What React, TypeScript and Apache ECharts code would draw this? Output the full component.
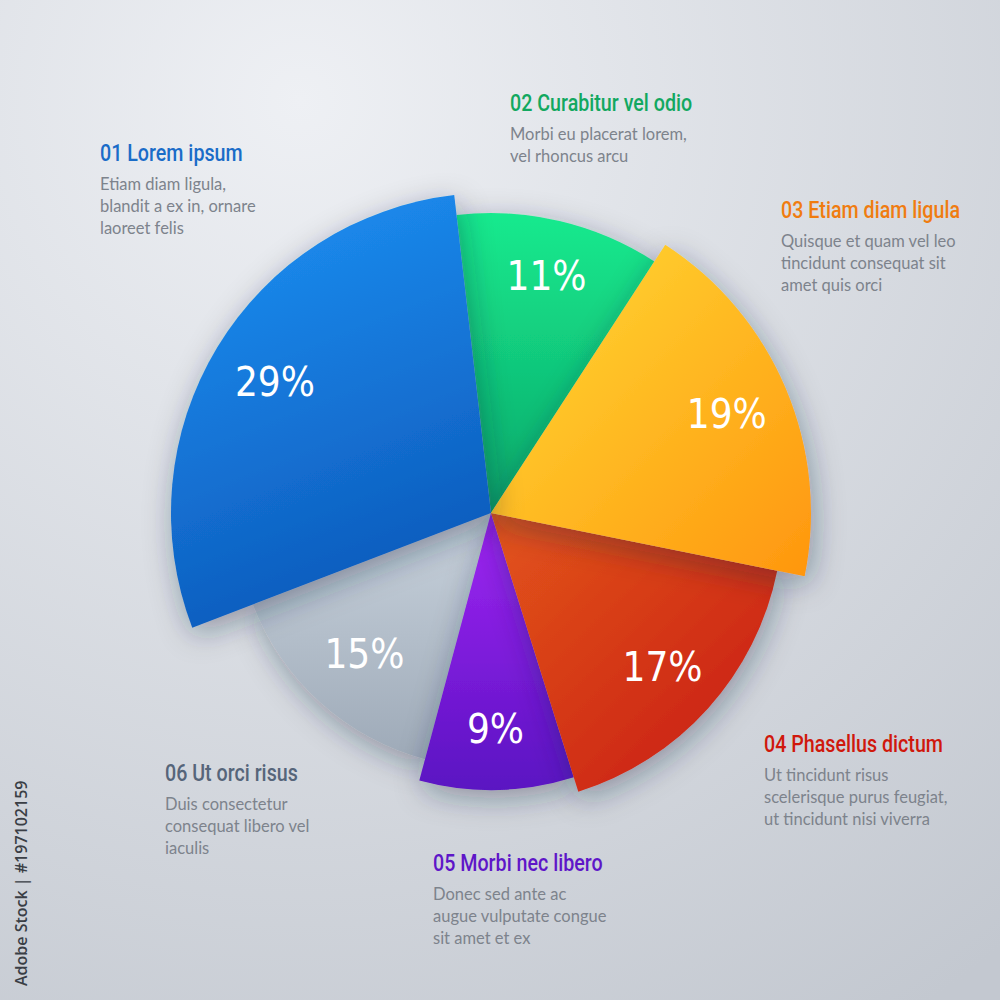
import React, { useEffect, useRef } from 'react';
import * as echarts from 'echarts';

// ---------- data ----------
const categories = [
  '01 Lorem ipsum',
  '02 Curabitur vel odio',
  '03 Etiam diam ligula',
  '04 Phasellus dictum',
  '05 Morbi nec libero',
  '06 Ut orci risus',
];
const percentValues = [29, 11, 19, 17, 9, 15];
const descriptions = [
  ['Etiam diam ligula,', 'blandit a ex in, ornare', 'laoreet felis'],
  ['Morbi eu placerat lorem,', 'vel rhoncus arcu'],
  ['Quisque et quam vel leo', 'tincidunt consequat sit', 'amet quis orci'],
  ['Ut tincidunt risus', 'scelerisque purus feugiat,', 'ut tincidunt nisi viverra'],
  ['Donec sed ante ac', 'augue vulputate congue', 'sit amet et ex'],
  ['Duis consectetur', 'consequat libero vel', 'iaculis'],
];
const creditText = 'Adobe Stock | #197102159';

// ---------- layout & style ----------
const CENTER = [491, 513];
const START_ANGLE = 201;
const sliceRadius = [320, 300, 320, 292, 277, 255];
const labelRadiusRatio = [0.78, 0.8, 0.79, 0.78, 0.77, 0.73];
const sliceZ = [9, 5, 8, 7, 4, 3];
const sliceGradients = [
  { x: 0, y: 0, x2: 0.3, y2: 1, stops: ['#1e93f6', '#0d5cbd'] },
  { x: 0, y: 0, x2: 0, y2: 1, stops: ['#16ea8e', '#0ca86a'] },
  { x: 0, y: 0, x2: 1, y2: 1, stops: ['#ffdc36', '#ff960e'] },
  { x: 0, y: 0, x2: 1, y2: 1, stops: ['#e3561c', '#c61810'] },
  { x: 0, y: 0, x2: 0, y2: 1, stops: ['#a126f4', '#5a12c2'] },
  { x: 0, y: 0, x2: 0, y2: 1, stops: ['#c8d2dc', '#9eaab8'] },
];
const titleColors = ['#1a6cc8', '#12a860', '#f07c10', '#d0180c', '#5e16c8', '#56657a'];
const blockPos = [
  [100, 153],
  [510, 103],
  [781, 210],
  [764, 744],
  [433, 863],
  [165, 773],
];
const TITLE_FONT = 'Roboto';
const LABEL_FONT = '"DejaVu Sans Condensed", Roboto, sans-serif';

function buildOption() {
  const sliceSeries = categories.map((_, i) => {
    const g = sliceGradients[i];
    const fill = new echarts.graphic.LinearGradient(g.x, g.y, g.x2, g.y2, [
      { offset: 0, color: g.stops[0] },
      { offset: 1, color: g.stops[1] },
    ]);
    return {
      type: 'pie',
      name: categories[i],
      center: CENTER,
      radius: [0, sliceRadius[i]],
      startAngle: START_ANGLE,
      clockwise: true,
      z: sliceZ[i],
      silent: true,
      avoidLabelOverlap: false,
      label: { show: false },
      labelLine: { show: false },
      emphasis: { disabled: true },
      data: percentValues.map((v, j) => ({
        name: categories[j],
        value: v,
        itemStyle:
          j === i
            ? {
                color: fill,
                shadowBlur: 30,
                shadowColor: 'rgba(30,40,60,0.38)',
                shadowOffsetX: 3,
                shadowOffsetY: 8,
              }
            : { color: 'rgba(0,0,0,0)' },
      })),
    };
  });

  const labelSeries = categories.map((_, i) => ({
    type: 'pie',
    name: categories[i] + ' label',
    center: CENTER,
    radius: [sliceRadius[i] * (2 * labelRadiusRatio[i] - 1), sliceRadius[i]],
    startAngle: START_ANGLE,
    clockwise: true,
    z: 20,
    silent: true,
    avoidLabelOverlap: false,
    itemStyle: { color: 'rgba(0,0,0,0)' },
    labelLine: { show: false },
    emphasis: { disabled: true },
    label: { show: false },
    data: percentValues.map((v, j) => ({
      name: categories[j],
      value: v,
      label:
        j === i
          ? {
              show: true,
              position: 'inside',
              formatter: '{c}%',
              color: '#ffffff',
              fontSize: 40,
              fontFamily: LABEL_FONT,
              fontWeight: 500,
            }
          : { show: false },
    })),
  }));

  const graphics: any[] = [
    {
      type: 'rect',
      z: -10,
      silent: true,
      shape: { x: 0, y: 0, width: 1000, height: 1000 },
      style: {
        fill: new echarts.graphic.RadialGradient(0.3, 0.1, 1.1, [
          { offset: 0, color: '#eef0f4' },
          { offset: 1, color: '#c3c8d0' },
        ]),
      },
    },
  ];

  categories.forEach((c, i) => {
    const [x, y] = blockPos[i];
    graphics.push({
      type: 'text',
      x,
      y,
      scaleX: 0.82,
      silent: true,
      style: {
        text: c,
        fill: titleColors[i],
        fontSize: 24,
        fontFamily: TITLE_FONT,
        fontWeight: 500,
        align: 'left',
        textAlign: 'left',
        verticalAlign: 'middle',
        textVerticalAlign: 'middle',
      },
    });
    graphics.push({
      type: 'text',
      x,
      y: y + 20,
      silent: true,
      style: {
        text: descriptions[i].join('\n'),
        fill: '#7d838c',
        fontSize: 16.5,
        fontFamily: 'Lato',
        lineHeight: 22,
        align: 'left',
        textAlign: 'left',
        verticalAlign: 'top',
        textVerticalAlign: 'top',
      },
    });
  });

  graphics.push({
    type: 'text',
    x: 21,
    y: 986,
    rotation: Math.PI / 2,
    silent: true,
    style: {
      text: creditText,
      fill: '#3a3e45',
      fontSize: 16,
      fontWeight: 600,
      fontFamily: 'Open Sans',
      align: 'left',
      textAlign: 'left',
      verticalAlign: 'middle',
      textVerticalAlign: 'middle',
    },
  });

  return {
    animation: false,
    graphic: graphics,
    series: [...sliceSeries, ...labelSeries],
  };
}

export default function App() {
  const ref = useRef<HTMLDivElement>(null);
  useEffect(() => {
    if (!ref.current) return;
    const chart = echarts.init(ref.current, undefined, { renderer: 'svg' });
    chart.setOption(buildOption() as any);
    return () => chart.dispose();
  }, []);
  return (
    <div
      ref={ref}
      style={{ position: 'fixed', left: 0, top: 0, width: 1000, height: 1000, background: '#e4e7ec' }}
    />
  );
}
